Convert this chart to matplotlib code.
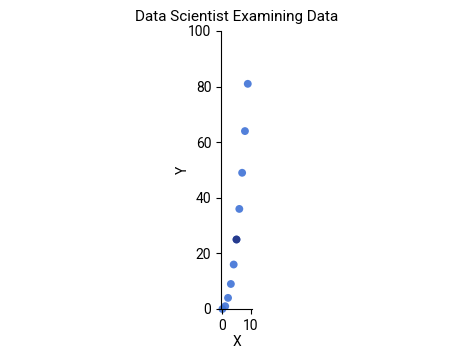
import matplotlib.pyplot as plt

plt.rcParams['font.family'] = ['Roboto', 'DejaVu Sans']

# data points
x = [0, 1, 2, 3, 4, 5, 6, 7, 8, 9]
y = [0, 1, 4, 9, 16, 25, 36, 49, 64, 81]
hx = [5]
hy = [25]

fig = plt.figure(figsize=(4.74, 3.55), dpi=100)
ax = fig.add_axes([221 / 474, 1 - 309 / 355, 31 / 474, 278 / 355])

ax.scatter(x, y, s=32, color="#3f72d6", alpha=0.9, edgecolors="none", clip_on=False)
ax.scatter(hx, hy, s=32, color="#1f2f80", alpha=0.85, edgecolors="none", clip_on=False)

ax.set_xlim(-0.5, 10.5)
ax.set_ylim(0, 100)
ax.spines['top'].set_visible(False)
ax.spines['right'].set_visible(False)
ax.set_xticks([0, 10])
ax.set_yticks([0, 20, 40, 60, 80, 100])
ax.tick_params(labelsize=10, length=3.5)

ax.set_title("Data Scientist Examining Data", fontsize=11, pad=7)
ax.set_xlabel("X", fontsize=10, labelpad=2)
ax.set_ylabel("Y", fontsize=10, labelpad=-1)

plt.savefig("out.png")
